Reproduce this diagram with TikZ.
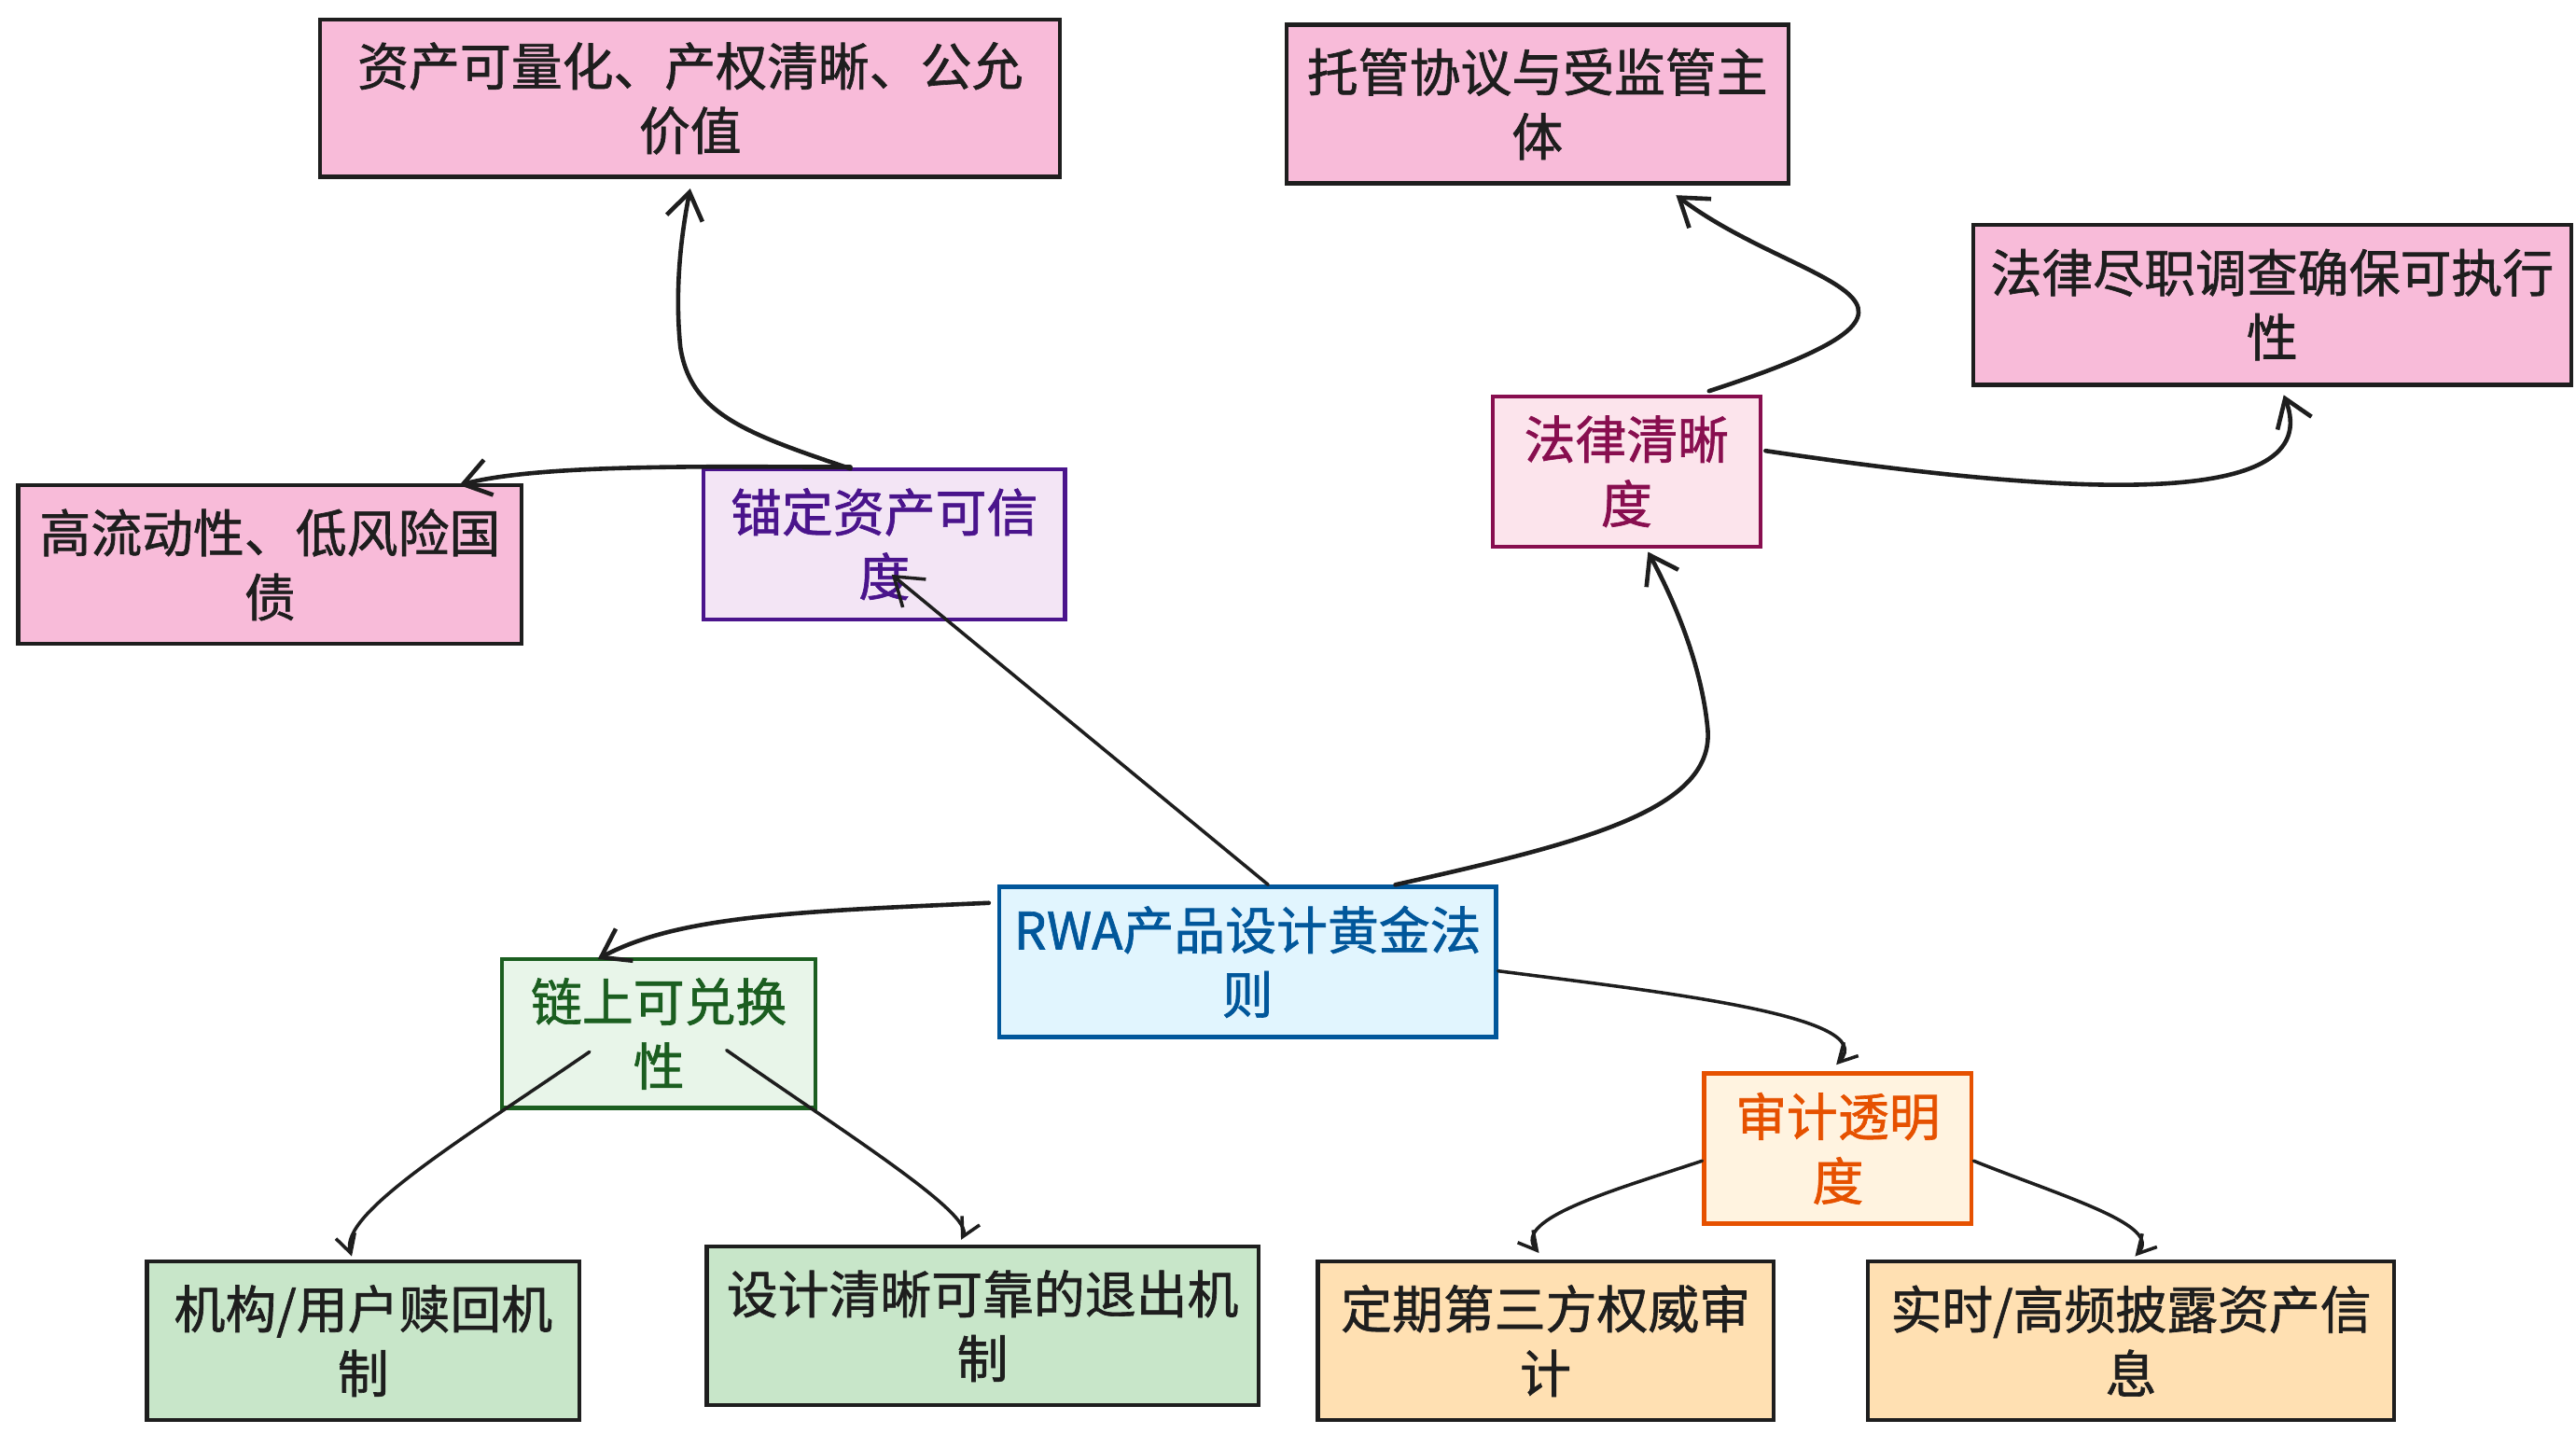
\documentclass[tikz,border=0pt]{standalone}
\usepackage{fontspec}
\setmainfont{Noto Sans CJK SC}[FakeBold=1.2]
\usetikzlibrary{arrows.meta,calc}
\definecolor{ink}{HTML}{1E1E1E}
\definecolor{pinkfill}{HTML}{F8BBD9}
\definecolor{greenleaf}{HTML}{C8E6C9}
\definecolor{orangeleaf}{HTML}{FFE0B2}
\definecolor{rootfill}{HTML}{E1F5FE}
\definecolor{rootline}{HTML}{01579B}
\definecolor{purfill}{HTML}{F3E5F5}
\definecolor{purline}{HTML}{4A148C}
\definecolor{magfill}{HTML}{FCE4EC}
\definecolor{magline}{HTML}{880E4F}
\definecolor{grnfill}{HTML}{E8F5E9}
\definecolor{grnline}{HTML}{1B5E20}
\definecolor{orgfill}{HTML}{FFF3E0}
\definecolor{orgline}{HTML}{E65100}
\begin{document}
\begin{tikzpicture}[x=1pt,y=-1pt,
  box/.style={draw, rectangle, line width=2.4pt, inner sep=0pt, align=center,
    font=\fontsize{31}{39}\selectfont},
  leaf/.style={box, draw=ink, text=ink},
  conn/.style={draw=ink, line width=2.6pt, line cap=round,
    -{Straight Barb[length=16pt,width=22pt]}},
  thin/.style={conn, line width=2pt, -{Straight Barb[length=11pt,width=12pt]}}]
\useasboundingbox[fill=white] (0,0) rectangle (1560,868);

% leaves
\node[leaf, fill=pinkfill, minimum width=448pt, minimum height=95pt] (n1) at (418,59.5) {资产可量化、产权清晰、公允\\价值};
\node[leaf, fill=pinkfill, minimum width=304pt, minimum height=96pt] (n2) at (931,63) {托管协议与受监管主\\体};
\node[leaf, fill=pinkfill, minimum width=362pt, minimum height=97pt] (n3) at (1376,184.5) {法律尽职调查确保可执行\\性};
\node[leaf, fill=pinkfill, minimum width=305pt, minimum height=96pt] (n6) at (163.5,342) {高流动性、低风险国\\债};
\node[leaf, fill=greenleaf, minimum width=262pt, minimum height=96pt] (n10) at (220,812) {机构/用户赎回机\\制};
\node[leaf, fill=greenleaf, minimum width=334pt, minimum height=96pt] (n11) at (595,803) {设计清晰可靠的退出机\\制};
\node[leaf, fill=orangeleaf, minimum width=276pt, minimum height=96pt] (n12) at (936,812) {定期第三方权威审\\计};
\node[leaf, fill=orangeleaf, minimum width=319pt, minimum height=96pt] (n13) at (1290.5,812) {实时/高频披露资产信\\息};

% branches
\node[box, fill=magfill, draw=magline, text=magline, minimum width=162pt, minimum height=91pt] (legal) at (985,285.5) {法律清晰\\度};
\node[box, fill=purfill, draw=purline, text=purline, minimum width=219pt, minimum height=91pt] (anchor) at (535.5,329.5) {锚定资产可信\\度};
\node[box, fill=grnfill, draw=grnline, text=grnline, minimum width=190pt, minimum height=90pt] (chain) at (399,626) {链上可兑换\\性};
\node[box, fill=orgfill, draw=orgline, text=orgline, minimum width=162pt, minimum height=91pt] (audit) at (1113,695.5) {审计透明\\度};

% root
\node[box, fill=rootfill, draw=rootline, text=rootline, minimum width=301pt, minimum height=91pt] (root) at (755.5,582.5) {RWA产品设计黄金法\\则};

% connectors
\draw[conn, line width=2pt] ([xshift=12.5pt]root.north) -- ([xshift=4.5pt,yshift=-18.5pt]anchor.center);
\draw[conn] ([xshift=89.5pt]root.north) .. controls (960,510) and (1040,490) .. (1034,440)
   .. controls (1030,400) and (1012,360) .. ([xshift=13pt,yshift=-2pt]legal.south);
\draw[conn] ([xshift=-5pt,yshift=-11pt]root.north west) .. controls (480,552) and (410,555) .. ([xshift=-37pt,yshift=-1pt]chain.north);
\draw[thin] ([yshift=-5.5pt]root.east) .. controls (1000,600) and (1140,615) .. ([xshift=-1pt,yshift=4pt]audit.north);

\draw[conn] ([xshift=-20.5pt,yshift=-1pt]anchor.north) .. controls (450,262) and (418,250) .. (412,210)
   .. controls (408,170) and (414,135) .. ([yshift=-6pt]n1.south);
\draw[conn] ([xshift=-20.5pt]anchor.north) .. controls (450,283) and (330,280) .. ([xshift=-39pt,yshift=-1pt]n6.north east);

\draw[conn] ([xshift=50pt,yshift=2pt]legal.north) .. controls (1210,180) and (1090,175) .. ([xshift=84pt,yshift=-6pt]n2.south);
\draw[conn] ([xshift=2pt,yshift=12.5pt]legal.east) .. controls (1250,300) and (1410,310) .. ([xshift=7pt,yshift=-5pt]n3.south);

\draw[thin] ([xshift=-42pt,yshift=-11pt]chain.center) .. controls (280,690) and (205,735) .. ([xshift=-7pt,yshift=2pt]n10.north);
\draw[thin] ([xshift=41pt,yshift=-10pt]chain.center) .. controls (510,685) and (590,735) .. ([xshift=-13pt,yshift=3pt]n11.north);

\draw[thin] ([yshift=-7.5pt]audit.west) .. controls (980,720) and (915,738) .. ([xshift=-4pt,yshift=4pt]n12.north);
\draw[thin] ([yshift=-7.5pt]audit.east) .. controls (1250,725) and (1310,742) .. ([xshift=2.5pt,yshift=2pt]n13.north);
\end{tikzpicture}
\end{document}
